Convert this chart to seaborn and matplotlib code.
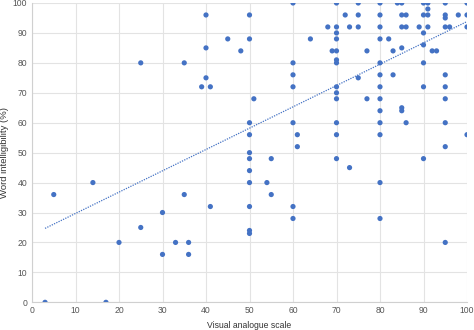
import numpy as np
import pandas as pd
import matplotlib
matplotlib.use("Agg")
import matplotlib.pyplot as plt
import seaborn as sns

# Visual analogue scale (x) and word intelligibility % (y)
vas = [3, 5, 14, 17, 20, 25, 25, 30, 30, 33, 35, 35, 36, 36, 39, 40, 40, 40, 41, 41, 45, 48,
       50, 50, 50, 50, 50, 50, 50, 50, 50, 50, 50,
       51, 54, 55, 55,
       60, 60, 60, 60, 60, 60, 60, 61, 61,
       64, 68, 69,
       70, 70, 70, 70, 70, 70, 70, 70, 70, 70, 70, 70, 70,
       72, 73, 73,
       75, 75, 75, 75,
       77, 77,
       80, 80, 80, 80, 80, 80, 80, 80, 80, 80, 80, 80, 80,
       82, 83, 83,
       84, 85, 85, 86, 85, 86, 85, 85, 85, 86,
       89,
       90, 90, 90, 90, 90, 90, 90,
       91, 91, 91, 91,
       92, 93,
       95, 95, 95, 95, 95, 95, 95, 95, 95, 95,
       96, 98,
       100, 100, 100, 100]
intel = [0, 36, 40, 0, 20, 25, 80, 30, 16, 20, 36, 80, 20, 16, 72, 96, 85, 75, 72, 32, 88, 84,
         96, 88, 60, 56, 50, 48, 44, 40, 32, 24, 23,
         68, 40, 48, 36,
         100, 80, 76, 72, 60, 32, 28, 56, 52,
         88, 92, 84,
         100, 92, 90, 88, 84, 81, 80, 72, 70, 68, 60, 56, 48,
         96, 92, 45,
         100, 96, 92, 75,
         84, 68,
         100, 96, 92, 88, 80, 76, 72, 68, 64, 60, 56, 40, 28,
         88, 84, 76,
         100, 100, 96, 96, 92, 92, 85, 65, 64, 60,
         92,
         100, 96, 90, 86, 80, 72, 48,
         100, 98, 96, 92,
         84, 84,
         100, 96, 95, 92, 76, 72, 68, 60, 52, 20,
         92, 96,
         100, 96, 92, 56]

# Linear trendline end points
trend_vas = [3, 100]
trend_intel = [24.7, 93.8]

x_ticks = [0, 10, 20, 30, 40, 50, 60, 70, 80, 90, 100]
y_ticks = [0, 10, 20, 30, 40, 50, 60, 70, 80, 90, 100]

df = pd.DataFrame({"Visual analogue scale": vas, "Word intelligibility (%)": intel})
trend = pd.DataFrame({"Visual analogue scale": trend_vas, "Word intelligibility (%)": trend_intel})

sns.set_theme(style="white")
plt.rcParams["font.family"] = ["Liberation Sans", "DejaVu Sans"]

fig = plt.figure(figsize=(4.74, 3.30), dpi=100)
ax = fig.add_axes([32 / 474, 1 - 302.3 / 330, 435 / 474, (302.3 - 3) / 330])

blue = "#4472C4"
sns.lineplot(data=trend, x="Visual analogue scale", y="Word intelligibility (%)", ax=ax,
             color=blue, linewidth=0.9, linestyle=(0, (1, 1)), zorder=2)
sns.scatterplot(data=df, x="Visual analogue scale", y="Word intelligibility (%)", ax=ax,
                s=14, color=blue, edgecolor="none", zorder=3)

ax.set_xlim(0, 100)
ax.set_ylim(0, 100)
ax.set_xticks(x_ticks)
ax.set_yticks(y_ticks)
ax.grid(True, color="#e3e3e3", linewidth=0.8)
ax.set_axisbelow(True)
for side in ["top", "right"]:
    ax.spines[side].set_visible(False)
for side in ["left", "bottom"]:
    ax.spines[side].set_color("#d0d0d0")
    ax.spines[side].set_linewidth(0.8)
ax.tick_params(axis="y", length=0, labelsize=6.2, colors="#555555", pad=3.5)
ax.tick_params(axis="x", length=0, labelsize=6.2, colors="#555555", pad=2.5)
ax.set_xlabel("Visual analogue scale", fontsize=6.2, color="#333333")
ax.set_ylabel("Word intelligibility (%)", fontsize=6.8, color="#333333")
ax.xaxis.set_label_coords(0.5, -0.064)
ax.yaxis.set_label_coords(-0.052, 0.5)

fig.savefig("out.png", dpi=100)
